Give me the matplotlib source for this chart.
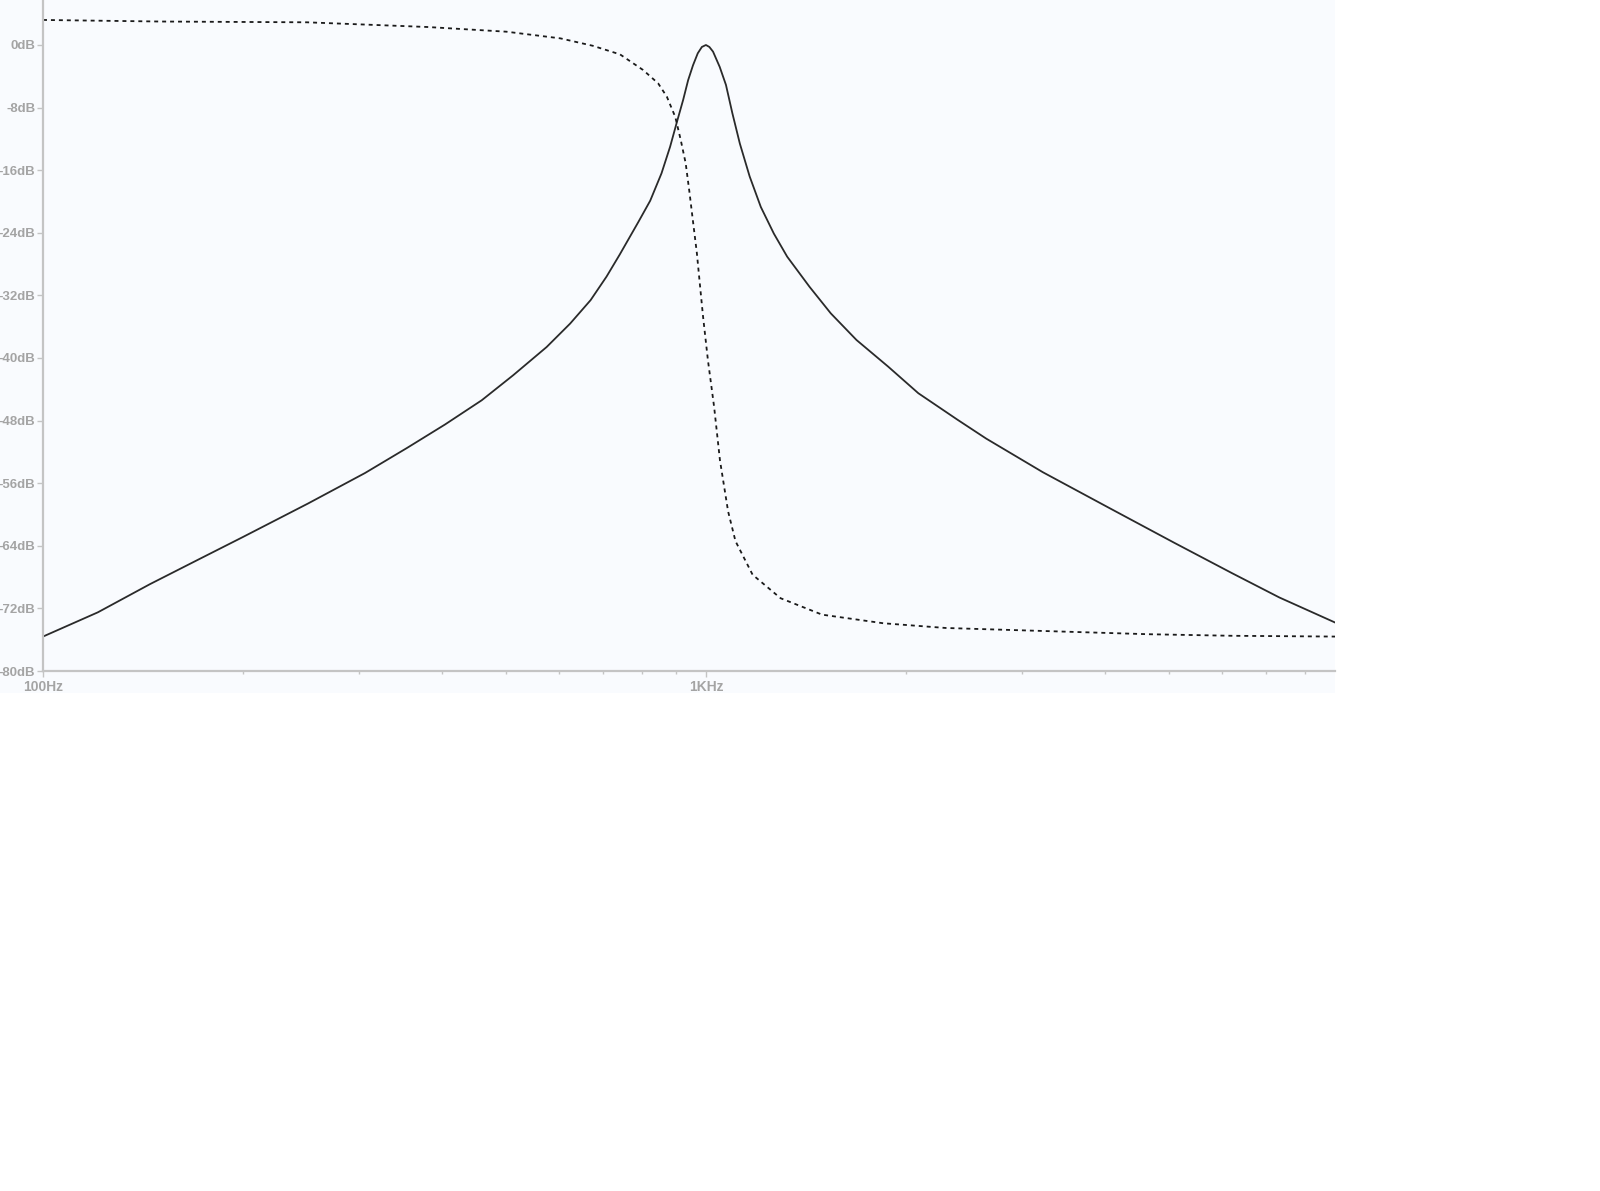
import matplotlib
matplotlib.use("Agg")
import matplotlib.pyplot as plt
from matplotlib.patches import Rectangle
from matplotlib.ticker import FixedLocator, NullFormatter

# ---- data ----
freq_solid = [100, 121, 145, 173, 200, 251, 306, 354, 404, 459, 512, 575, 624, 670,
              708, 741, 791, 824, 857, 883, 903, 924, 940, 956, 972, 986, 1000, 1012,
              1025, 1049, 1072, 1096, 1125, 1164, 1210, 1266, 1326, 1433, 1543, 1687,
              1883, 2091, 2397, 2647, 3223, 4045, 5083, 6218, 7326, 8890]
db_solid = [-75.6, -72.5, -68.9, -65.6, -62.9, -58.6, -54.7, -51.5, -48.5, -45.4, -42.2,
            -38.6, -35.6, -32.6, -29.6, -26.8, -22.6, -19.9, -16.4, -13.0, -10.0, -7.0,
            -4.5, -2.6, -1.06, -0.25, 0.0, -0.25, -0.85, -2.8, -5.1, -8.7, -12.6, -16.8,
            -20.7, -24.1, -27.05, -30.9, -34.3, -37.7, -41.1, -44.5, -47.9, -50.3, -54.6,
            -59.1, -63.6, -67.5, -70.6, -73.8]

freq_dot = [100, 150, 250, 380, 500, 603, 675, 742, 804, 847, 873, 899, 916, 932, 944,
            954, 969, 980, 990, 1007, 1029, 1050, 1080, 1108, 1176, 1296, 1497, 1852,
            2298, 3268, 4650, 6218, 8890]
db_dot = [3.2, 3.0, 2.9, 2.3, 1.7, 0.85, -0.1, -1.2, -3.2, -4.9, -6.6, -9.2, -12.1,
          -15.1, -18.7, -21.9, -26.6, -30.9, -34.7, -40.3, -46.3, -53.1, -59.6, -63.4,
          -67.7, -70.7, -72.8, -73.9, -74.5, -74.9, -75.3, -75.5, -75.6]

y_ticks = [0, -8, -16, -24, -32, -40, -48, -56, -64, -72, -80]
y_tick_labels = [f"{v}dB" for v in y_ticks]
x_major = [100, 1000]
x_major_labels = ["100Hz", "1KHz"]
x_minor = [200, 300, 400, 500, 600, 700, 800, 900,
           2000, 3000, 4000, 5000, 6000, 7000, 8000]

# ---- figure ----
W, H = 1600, 1191
fig = plt.figure(figsize=(W / 100, H / 100), dpi=100)
fig.patch.set_facecolor("white")
bg = "#f9fbfe"
rect = Rectangle((0, 1 - 693 / H), 1335 / W, 693 / H,
                 transform=fig.transFigure, facecolor=bg,
                 edgecolor="none", zorder=-10)
fig.add_artist(rect)

ax = fig.add_axes([43 / W, 1 - 671 / H, (1335 - 43) / W, 671 / H])
ax.set_zorder(1)
ax.set_facecolor(bg)
ax.set_xscale("log")
ax.set_xlim(100, 8890)
ax.set_ylim(-80, 5.75)

ax.plot(freq_solid, db_solid, color="#2a2a2a", lw=1.3, solid_joinstyle="round")
ax.plot(freq_dot, db_dot, color="#1a1a1a", lw=1.3, linestyle=(0, (2.2, 2.2)))

grey = "#c4c4c4"
for s in ["top", "right"]:
    ax.spines[s].set_visible(False)
for s in ["left", "bottom"]:
    ax.spines[s].set_color(grey)
    ax.spines[s].set_linewidth(1.6)

ax.set_yticks(y_ticks)
ax.set_yticklabels(y_tick_labels)
ax.xaxis.set_major_locator(FixedLocator(x_major))
ax.set_xticklabels(x_major_labels)
ax.xaxis.set_minor_locator(FixedLocator(x_minor))
ax.xaxis.set_minor_formatter(NullFormatter())

lblc = "#a4a4a4"
ax.tick_params(axis="y", which="major", direction="out", length=4.5, width=1.0,
               color=grey, labelcolor=lblc, labelsize=9.5, pad=1)
ax.tick_params(axis="x", which="major", direction="out", length=4.5, width=1.0,
               color=grey, labelcolor=lblc, labelsize=10, pad=2)
ax.tick_params(axis="x", which="minor", direction="out", length=2, width=1.0,
               color=grey)
for t in ax.get_yticklabels() + ax.get_xticklabels():
    t.set_fontweight("bold")
    t.set_fontfamily(["Liberation Sans", "DejaVu Sans"])

fig.savefig("out.png", dpi=100, facecolor="white")
